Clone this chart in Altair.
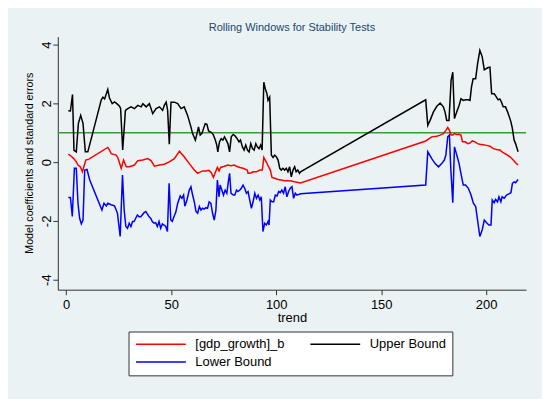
import altair as alt
import pandas as pd

# Upper bound (black)
upper_trend = [1, 2, 3, 3.7, 4.8, 5.8, 6.9, 8, 9.1, 10.3, 16.7, 17.5, 18.3, 19.8, 20.6,
               21.9, 23, 24.1, 25.4, 25.9, 26.9, 28.2, 29.3, 30.9, 32.5, 34.1, 35.7, 36.5,
               38.1, 39.6, 41.2, 42.8, 44.4, 45.9, 46.7, 47.6, 48.3, 49.1, 49.9, 51.5, 53.1,
               54.7, 56.2, 57.8, 59.4, 60.2, 61.5, 62.3, 63, 63.8, 64.6, 65.4, 66.2, 67,
               67.8, 68.6, 69.4, 70.1, 71, 71.7, 72.2, 73, 73.8, 74.6, 75.4, 76.2, 77, 77.8,
               78.6, 79.5, 80.3, 81.4, 82.3, 83, 83.9, 84.7, 85.5, 86.3, 87.1, 87.9, 88.7,
               89.5, 90.3, 91, 91.8, 92.6, 93.3, 94.1, 94.8, 95.6, 96.1, 96.9, 97.7, 98.5,
               99.3, 100.1, 100.9, 101.7, 102.4, 103.2, 104, 104.8, 105.6, 106.4, 107.2,
               108, 108.8, 109.5, 110.3, 111.1, 111.6, 171.2, 172.2, 173.3, 174.9, 176.5,
               178.1, 179.6, 180.4, 181.2, 182.3, 183.3, 184.1, 184.9, 186, 187.1, 188,
               189.1, 190.2, 191.5, 192.3, 193, 193.8, 195, 195.9, 197, 198.1, 199.1, 200.7,
               201.8, 202.6, 203.8, 204.9, 205.7, 206.5, 207.3, 208.1, 209.2, 210.2, 210.8,
               211.8, 212.5, 213.3, 214, 215.2]
upper_value = [1.75, 1.74, 2.3, 0.4, 0.35, 1.32, 1.59, 1.32, 0.35, 0.35, 2.12, 2.21, 2.15,
               2.47, 2.18, 1.99, 2.05, 1.99, 1.9, 1.83, 0.41, 1.76, 1.82, 1.88, 1.82, 1.93,
               1.88, 1.99, 1.88, 1.99, 1.65, 1.82, 1.88, 1.76, 1.93, 2.04, 1.76, 0.61, 2.04,
               2.04, 1.99, 1.82, 1.88, 1.59, 1.2, 0.97, 0.75, 0.97, 1.2, 0.92, 0.97, 1.14,
               1.31, 1.29, 1.06, 1.03, 1.0, 0.92, 0.75, 0.58, 0.35, 0.69, 0.8, 0.75, 0.86,
               0.75, 0.63, 0.35, 0.86, 0.94, 0.9, 0.8, 0.69, 0.75, 0.52, 0.41, 0.58, 0.41,
               0.35, 0.63, 0.46, 0.41, 0.63, 0.52, 0.46, 0.58, 0.41, 2.72, 2.5, 2.33, 2.1,
               2.21, 0.24, 0.16, 0.24, 0.18, 0.07, -0.21, -0.27, -0.21, -0.27, -0.21, -0.33,
               -0.16, -0.5, -0.27, -0.16, -0.33, -0.27, -0.38, -0.33, 2.12, 1.25, 1.42, 1.71,
               1.9, 2.01, 1.88, 1.71, 1.42, 1.42, 2.78, 3.06, 1.48, 1.71, 1.93, 2.16, 2.1,
               2.12, 2.12, 2.1, 2.55, 2.84, 2.84, 3.34, 3.8, 3.59, 3.14, 3.21, 3.23, 2.33,
               2.33, 2.21, 2.12, 2.15, 2.04, 1.88, 1.88, 1.71, 1.59, 1.37, 1.14, 0.75, 0.63,
               0.35]

# Coefficient (red)
coef_trend = [1, 2.4, 3.6, 4.8, 5.6, 6.7, 7.7, 8.4, 9.3, 10.8, 19.8, 20.6, 21.4, 23.8, 24.6,
              26.2, 27.3, 28.6, 30.1, 32.5, 34.1, 36.5, 38.8, 40.4, 42, 44.4, 46.7, 49.1,
              51.5, 53.9, 56.2, 58.6, 61, 62.6, 63.5, 65, 66.5, 68, 69, 70.1, 71, 72, 72.8,
              73.5, 75, 77, 78.5, 80, 81.1, 82.7, 84.2, 86.2, 86.6, 87.4, 88.2, 89, 90.6,
              92.2, 93.4, 94.1, 94.8, 95.6, 96.4, 97.2, 98, 99.3, 100.9, 102.4, 104, 105.6,
              107.2, 108.8, 110.3, 111.6, 171.2, 174.1, 176.5, 178.1, 179.6, 180.8, 181.7,
              182.5, 183.3, 184.1, 184.9, 186, 187.1, 188, 188.7, 190, 191.2, 192.3, 193.4,
              194.7, 195.9, 197, 198.6, 200.2, 201.8, 203.4, 205, 206.5, 208.1, 209.7,
              211.3, 212.9, 214, 215.2]
coef_value = [0.27, 0.2, 0.12, 0.01, -0.1, -0.16, -0.33, -0.16, 0.07, 0.1, 0.5, 0.41, 0.29,
              0.24, 0.15, -0.21, 0.07, -0.16, -0.16, -0.1, 0.05, 0.07, 0.12, 0.05, -0.14,
              -0.1, -0.07, 0.01, 0.12, 0.37, 0.18, -0.05, -0.27, -0.38, -0.35, -0.3, -0.3,
              -0.28, -0.35, -0.52, -0.35, -0.18, -0.3, -0.18, -0.15, -0.1, -0.12, -0.1,
              -0.14, -0.18, -0.21, -0.27, -0.38, -0.38, -0.36, -0.33, -0.33, -0.27, -0.27,
              0.16, 0.07, -0.04, -0.16, -0.27, -0.52, -0.55, -0.59, -0.61, -0.63, -0.63,
              -0.64, -0.67, -0.69, -0.71, 0.72, 0.86, 0.88, 0.92, 0.97, 1.08, 1.18, 1.08,
              0.92, 0.92, 0.97, 0.94, 0.95, 0.92, 0.69, 0.69, 0.63, 0.65, 0.72, 0.69, 0.63,
              0.61, 0.59, 0.57, 0.54, 0.46, 0.43, 0.41, 0.32, 0.26, 0.18, 0.07, -0.02, -0.1]

# Lower bound (blue)
lower_trend = [1, 2, 2.9, 3.9, 4.8, 5.6, 6.4, 7.2, 8, 8.8, 9.9, 11.2, 17, 18, 19.1, 19.8,
               21.4, 23, 23.8, 24.4, 25.7, 26.8, 27.6, 28.4, 29.2, 30, 30.8, 31.6, 32.3,
               33.1, 33.9, 34.7, 35.5, 37.1, 37.9, 38.7, 39.5, 40.2, 41, 41.8, 42.6, 43.4,
               44.2, 45, 45.8, 46.6, 47.4, 48.2, 49, 49.8, 50.5, 51.3, 52.2, 53.1, 54.3,
               55.1, 55.9, 56.5, 57.5, 58.6, 59.4, 60.2, 61, 61.8, 62.6, 63.4, 64.2, 64.9,
               65.7, 66.5, 67.3, 68.1, 68.9, 69.7, 70.5, 71.3, 72, 72.8, 73.3, 74.1, 74.9,
               75.7, 76.5, 77.2, 77.8, 78.5, 79.6, 80.3, 81.1, 81.8, 82.7, 83.4, 84.2, 85,
               85.8, 86.6, 87.4, 88.2, 89, 89.8, 90.6, 91.4, 92.2, 92.9, 93.7, 94.5, 95.3,
               96.1, 96.6, 97.2, 98, 98.8, 99.6, 100.4, 101.2, 101.9, 102.7, 103.5, 104.3,
               105.1, 105.9, 106.7, 107.5, 108.3, 109.1, 109.9, 111.1, 111.6, 171.2, 172.2,
               174.1, 175.7, 177.3, 178.8, 180.1, 180.8, 181.7, 182.5, 183.1, 184.1, 184.9,
               186, 187.1, 188.3, 189.1, 190.2, 191.5, 192.8, 193.9, 195, 195.9, 197, 198.1,
               199.1, 200.2, 201.3, 202.3, 202.9, 203.8, 204.5, 205.4, 206.1, 207, 207.6,
               208.6, 209.7, 210.8, 211.8, 212.5, 213.3, 214, 215.2]
lower_value = [-1.2, -1.2, -1.85, -0.21, -0.21, -1.4, -1.91, -2.1, -1.97, -0.27, -0.25,
               -0.61, -1.63, -1.4, -1.49, -1.4, -1.45, -1.49, -1.63, -1.74, -2.53, -0.44,
               -1.63, -2.19, -2.25, -2.08, -2.19, -2.02, -2.02, -1.91, -1.8, -1.86, -1.86,
               -1.72, -1.68, -1.77, -1.86, -1.91, -2.02, -2.08, -2.06, -2.19, -2.02, -2.25,
               -2.1, -2.14, -2.19, -2.36, -0.72, -1.97, -2.02, -1.86, -1.7, -1.4, -1.15,
               -1.23, -1.12, -1.5, -1.29, -0.95, -0.84, -1.12, -1.35, -1.68, -1.74, -1.51,
               -1.63, -1.57, -1.6, -1.55, -1.57, -1.35, -1.4, -1.74, -1.97, -1.63, -0.61,
               -1.18, -0.78, -0.95, -1.12, -0.95, -1.06, -0.67, -0.38, -1.06, -1.12, -1.12,
               -0.95, -1.0, -0.95, -0.89, -0.78, -0.89, -1.06, -1.0, -1.29, -1.57, -1.35,
               -1.06, -1.23, -1.12, -1.29, -1.18, -2.36, -2.08, -2.14, -2.02, -2.14, -1.29,
               -1.35, -1.35, -1.12, -1.15, -1.0, -1.04, -0.95, -1.06, -0.84, -1.18, -1.0,
               -0.89, -0.84, -1.23, -1.06, -1.12, -1.09, -1.08, -0.78, 0.35, 0.12, -0.05,
               -0.16, -0.05, 0.07, 0.24, 0.86, 0.92, -0.16, -1.38, 0.52, 0.24, -0.05, -0.5,
               -0.78, -0.78, -0.89, -1.12, -1.4, -1.51, -1.97, -2.53, -2.31, -1.97, -2.06,
               -2.14, -2.14, -1.29, -1.38, -1.27, -1.35, -1.18, -1.35, -1.18, -1.23, -1.12,
               -1.08, -1.04, -0.72, -0.67, -0.7, -0.59]

# legend fills column by column: b and Lower in column 1, Upper in column 2
series_names = ['[gdp_growth]_b', 'Lower Bound', 'Upper Bound']
series_colors = ['#ff0000', '#0000ff', '#000000']
ref_line = [1]

# Long table for plotting
df = pd.concat([
    pd.DataFrame({'trend': coef_trend, 'value': coef_value, 'series': '[gdp_growth]_b'}),
    pd.DataFrame({'trend': upper_trend, 'value': upper_value, 'series': 'Upper Bound'}),
    pd.DataFrame({'trend': lower_trend, 'value': lower_value, 'series': 'Lower Bound'}),
])

font = 'Liberation Sans'
x_scale = alt.Scale(domain=[-4, 219], nice=False, zero=False)
y_scale = alt.Scale(domain=[-4.34, 4.27], nice=False, zero=False)

yline = alt.Chart(pd.DataFrame({'value': ref_line})).mark_rule(
    color='#3a9a3a', strokeWidth=1.6
).encode(
    y=alt.Y('value:Q', scale=y_scale)
)

# long legend keys: a 50px line drawn from a small nominal symbol size
lines = alt.Chart(df).mark_line(strokeWidth=1.5).encode(
    x=alt.X('trend:Q', scale=x_scale, axis=alt.Axis(
        values=[0, 50, 100, 150, 200], labelPadding=4,
        title='trend', titleY=28, titleBaseline='middle')),
    y=alt.Y('value:Q', scale=y_scale, axis=alt.Axis(
        values=[-4, -2, 0, 2, 4], labelAngle=270, labelAlign='center',
        labelBaseline='alphabetic', labelPadding=2,
        labelExpr="'' + datum.value", title='Model coefficients and standard errors',
        titleFontSize=10.7, titleX=-28, titleY=126.5, titleBaseline='middle')),
    color=alt.Color('series:N',
                    scale=alt.Scale(domain=series_names, range=series_colors),
                    legend=alt.Legend(
                        title=None, orient='none', legendX=71, legendY=296, columns=2,
                        symbolType='M-5,0H5', symbolSize=100, symbolStrokeWidth=1.5,
                        symbolOffset=20, labelOffset=28,
                        labelFont=font, labelFontSize=13, labelColor='black',
                        columnPadding=22, rowPadding=4, padding=6,
                        fillColor='white', strokeColor='#333333'))
)

chart = alt.layer(yline, lines).properties(
    width=470,
    height=254,
    background='#EAF2F3',
    padding={'left': 50, 'top': 28, 'right': 16, 'bottom': 109},
    autosize=alt.AutoSizeParams(type='none'),
    title=alt.TitleParams('Rolling Windows for Stability Tests', font=font, fontSize=11,
                          fontWeight='normal', color='#1A476F', anchor='middle', offset=4)
).configure_view(
    stroke=None
).configure_axis(
    grid=False, domainColor='#333333', tickColor='#333333', tickSize=5,
    labelFont=font, labelFontSize=13, labelColor='black', labelPadding=2,
    titleFont=font, titleFontSize=13, titleFontWeight='normal', titleColor='black'
)

chart.save('out.html', embed_options={'renderer': 'svg', 'actions': False})
